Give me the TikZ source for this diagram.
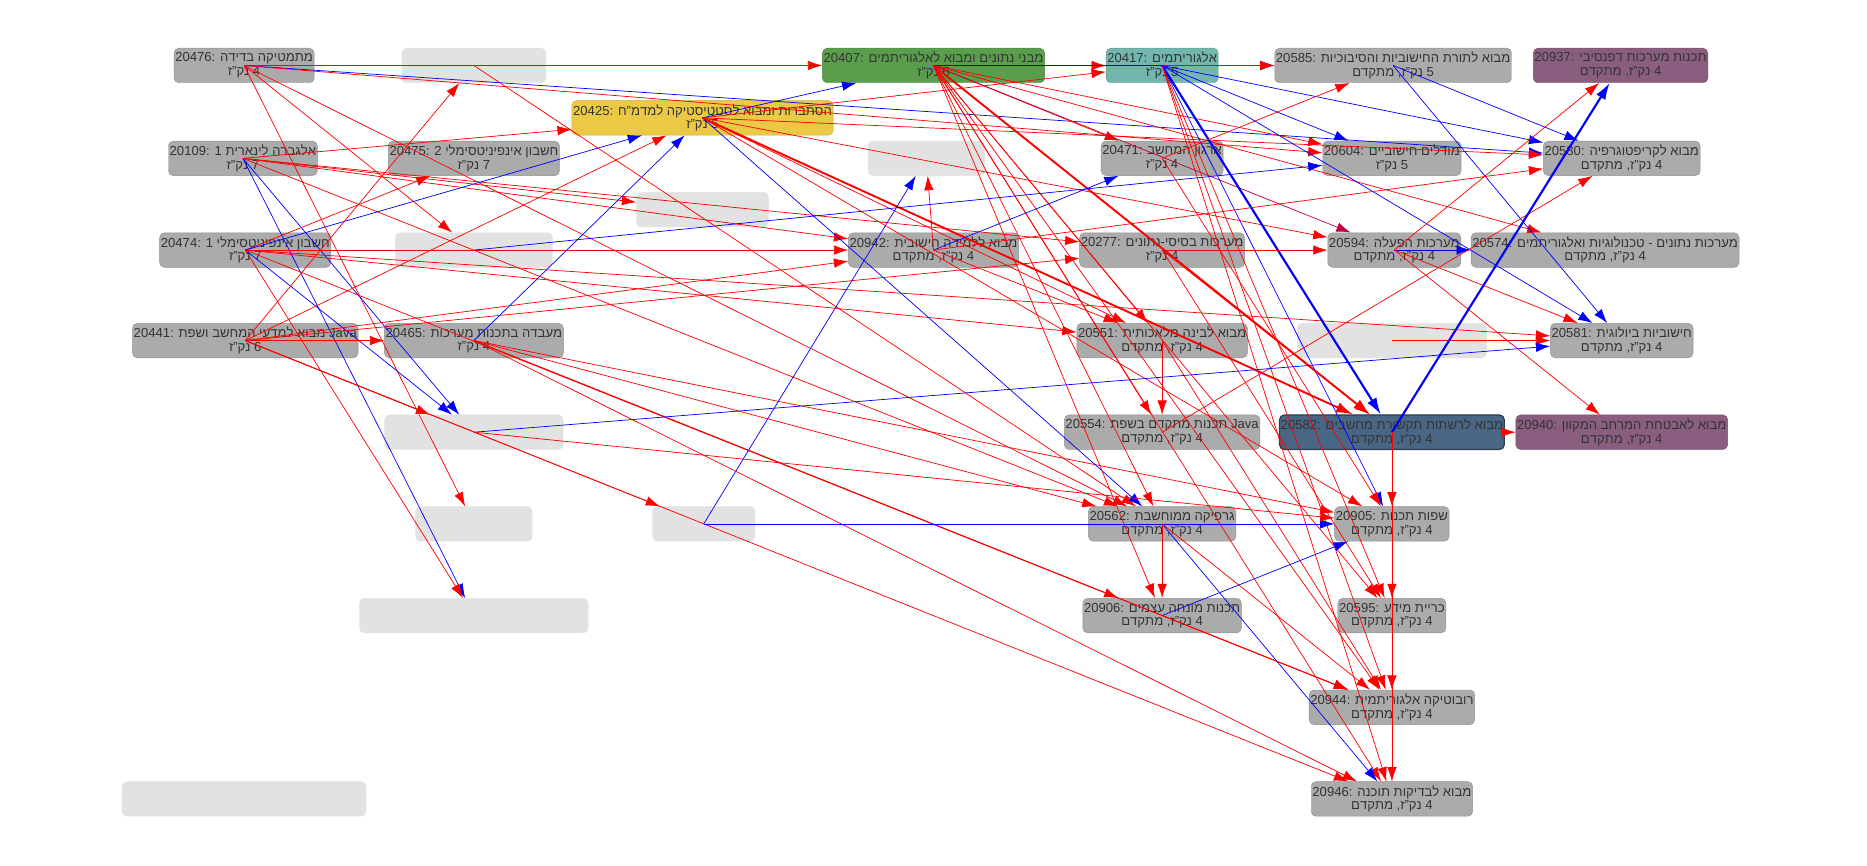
\documentclass[tikz,border=0pt]{standalone}
\usepackage{fontspec}
\setmainfont{Liberation Sans}
\TeXXeTstate=1
\usetikzlibrary{arrows.meta}
\definecolor{gbox}{HTML}{ABABAB}
\definecolor{gph}{HTML}{E2E2E2}
\definecolor{ggreen}{HTML}{5A9E4D}
\definecolor{gteal}{HTML}{72B6AE}
\definecolor{gyel}{HTML}{EBC945}
\definecolor{gpur}{HTML}{8A5E7E}
\definecolor{gnav}{HTML}{4A6685}
\definecolor{txt}{HTML}{333333}
\tikzset{
 crs/.style={rectangle,rounded corners=4pt,minimum height=29pt,inner sep=1pt,align=center,text=txt,font=\fontsize{11}{11.5}\selectfont,draw=#1!85!black,fill=#1,line width=0.4pt},
 ph/.style={rectangle,rounded corners=4pt,minimum height=29pt,fill=gph,draw=gph},
 er/.style={red,line width=0.6pt,-{Latex[length=12pt,width=8pt]}},
 erb/.style={red,line width=1.6pt,-{Latex[length=14pt,width=9pt]}},
 eb/.style={blue,line width=0.6pt,-{Latex[length=12pt,width=8pt]}},
 ebb/.style={blue,line width=1.8pt,-{Latex[length=14pt,width=9pt]}},
}
\newcommand{\crsnode}[8]{\node[crs=#5,minimum width=#4pt] (#1) at (#2,#3) {#6: \beginR #7\endR\\ \beginR #8\endR};}
\begin{document}
\begin{tikzpicture}[x=1pt,y=-1pt]
\useasboundingbox (0,0) rectangle (1568,727);
\def\nz{נק"ז}
\def\nzm{נק"ז, מתקדם}
% placeholders
\node[ph,minimum width=121pt] (g1) at (398,55) {};
\node[ph,minimum width=98pt] (g2) at (778,133) {};
\node[ph,minimum width=111pt] (g3) at (590,176) {};
\node[ph,minimum width=132pt] (g4) at (398,210) {};
\node[ph,minimum width=159pt] (g5) at (1169,286) {};
\node[ph,minimum width=150pt] (g6) at (398,363) {};
\node[ph,minimum width=98pt] (g7) at (398,440) {};
\node[ph,minimum width=86pt] (g8) at (591,440) {};
\node[ph,minimum width=192pt] (g9) at (398,517) {};
\node[ph,minimum width=205pt] (g10) at (205,671) {};
% courses
\crsnode{a20476}{205}{55}{113}{gbox}{20476}{מתמטיקה בדידה}{4 \nz}
\crsnode{a20407}{784}{55}{172}{ggreen}{20407}{מבני נתונים ומבוא לאלגוריתמים}{6 \nz}
\crsnode{a20417}{976}{55}{91}{gteal}{20417}{אלגוריתמים}{5 \nz}
\crsnode{a20585}{1170}{55}{183}{gbox}{20585}{מבוא לתורת החישוביות והסיבוכיות}{5 \nzm}
\crsnode{a20937}{1361}{55}{137}{gpur}{20937}{תכנות מערכות דפנסיבי}{4 \nzm}
\crsnode{a20425}{590}{99}{199}{gyel}{20425}{הסתברות ומבוא לסטטיסטיקה למדמ"ח}{5 \nz}
\crsnode{a20109}{204}{133}{118}{gbox}{20109}{אלגברה לינארית 1}{7 \nz}
\crsnode{a20475}{398}{133}{135}{gbox}{20475}{חשבון אינפיניטסימלי 2}{7 \nz}
\crsnode{a20471}{976}{133}{100}{gbox}{20471}{ארגון המחשב}{4 \nz}
\crsnode{a20604}{1169}{133}{110}{gbox}{20604}{מודלים חישוביים}{5 \nz}
\crsnode{a20580}{1362}{133}{130}{gbox}{20580}{מבוא לקריפטוגרפיה}{4 \nzm}
\crsnode{a20474}{206}{210}{139}{gbox}{20474}{חשבון אינפיניטסימלי 1}{7 \nz}
\crsnode{a20942}{784}{210}{135}{gbox}{20942}{מבוא ללמידה חישובית}{4 \nzm}
\crsnode{a20277}{976}{210}{129}{gbox}{20277}{מערכות בסיסי-נתונים}{4 \nz}
\crsnode{a20594}{1171}{210}{109}{gbox}{20594}{מערכות הפעלה}{4 \nzm}
\crsnode{a20574}{1348}{210}{178}{gbox}{20574}{מערכות נתונים - טכנולוגיות ואלגוריתמים}{4 \nzm}
\crsnode{a20441}{206}{286}{180}{gbox}{20441}{\beginL Java\endL{} מבוא למדעי המחשב ושפת}{6 \nz}
\crsnode{a20465}{398}{286}{141}{gbox}{20465}{מעבדה בתכנות מערכות}{4 \nz}
\crsnode{a20551}{976}{286}{133}{gbox}{20551}{מבוא לבינה מלאכותית}{4 \nzm}
\crsnode{a20581}{1362}{286}{117}{gbox}{20581}{חישוביות ביולוגית}{4 \nzm}
\crsnode{a20554}{976}{363}{160}{gbox}{20554}{\beginL Java\endL{} תכנות מתקדם בשפת}{4 \nzm}
\node[crs=gnav,draw=gnav!60!black,line width=1pt,minimum width=185pt] (a20582) at (1169,363) {20582: \beginR מבוא לרשתות תקשורת מחשבים\endR\\ \beginR 4 \nzm\endR};
\crsnode{a20940}{1362}{363}{166}{gpur}{20940}{מבוא לאבטחת המרחב המקוון}{4 \nzm}
\crsnode{a20562}{976}{440}{119}{gbox}{20562}{גרפיקה ממוחשבת}{4 \nzm}
\crsnode{a20905}{1169}{440}{96}{gbox}{20905}{שפות תכנות}{4 \nzm}
\crsnode{a20906}{976}{517}{126}{gbox}{20906}{תכנות מונחה עצמים}{4 \nzm}
\crsnode{a20595}{1169}{517}{87}{gbox}{20595}{כריית מידע}{4 \nzm}
\crsnode{a20944}{1169}{594}{131}{gbox}{20944}{רובוטיקה אלגוריתמית}{4 \nzm}
\crsnode{a20946}{1169}{671}{129}{gbox}{20946}{מבוא לבדיקות תוכנה}{4 \nzm}
% edges
\draw[er] (a20476.center) -- (a20407);
\draw[eb] (a20476.center) -- (a20580);
\draw[er] (a20476.center) -- (a20604);
\draw[er] (a20476.center) -- (g4);
\draw[er] (a20476.center) -- (a20562);
\draw[er] (a20476.center) -- (g7);
\draw[er] (a20109.center) -- (a20425);
\draw[er] (a20109.center) -- (a20942);
\draw[er] (a20109.center) -- (a20277);
\draw[er] (a20109.center) -- (g3);
\draw[eb] (a20109.center) -- (g9);
\draw[eb] (a20109.center) -- (g6);
\draw[er] (a20109.center) -- (a20562);
\draw[er] (a20474.center) -- (a20475);
\draw[eb] (a20474.center) -- (a20425);
\draw[er] (a20474.center) -- (a20942);
\draw[er] (a20474.center) -- (a20551);
\draw[er] (a20474.center) -- (a20581);
\draw[eb] (a20474.center) -- (g6);
\draw[er] (a20474.center) -- (g9);
\draw[er] (a20474.center) -- (a20944);
\draw[er] (a20441.center) -- (a20465);
\draw[er] (a20441.center) -- (g1);
\draw[er] (a20441.center) -- (a20425);
\draw[er] (a20441.center) -- (a20942);
\draw[er] (a20441.center) -- (a20277);
\draw[er] (a20441.center) -- (g6);
\draw[er] (a20441.center) -- (g8);
\draw[er] (a20441.center) -- (a20946);
\draw[eb] (a20465.center) -- (a20425);
\draw[er] (a20465.center) -- (a20562);
\draw[er] (a20465.center) -- (a20905);
\draw[er] (a20465.center) -- (a20944);
\draw[er] (a20465.center) -- (a20946);
\draw[er] (a20465.center) -- (a20906);
\draw[er] (g1.center) -- (a20562);
\draw[eb] (a20425.center) -- (a20407);
\draw[er] (a20425.center) -- (a20417);
\draw[er] (a20425.center) -- (a20580);
\draw[er] (a20425.center) -- (a20594);
\draw[erb] (a20425.center) -- (a20582);
\draw[eb] (a20425.center) -- (a20562);
\draw[er] (a20425.center) -- (a20551);
\draw[er] (a20425.center) -- (a20905);
\draw[er] (a20407.center) -- (a20417);
\draw[eb] (a20407.center) -- (a20585);
\draw[er] (a20407.center) -- (a20471);
\draw[erb] (a20407.center) -- (a20582);
\draw[er] (a20407.center) -- (a20604);
\draw[er] (a20407.center) -- (a20574);
\draw[er] (a20407.center) -- (a20554);
\draw[er] (a20407.center) -- (a20562);
\draw[er] (a20407.center) -- (a20906);
\draw[er] (a20407.center) -- (a20944);
\draw[er] (a20407.center) -- (a20946);
\draw[er] (a20407.center) -- (a20595);
\draw[er] (a20407.center) -- (a20551);
\draw[er,purple] (a20407.center) -- (a20594);
\draw[er] (a20417.center) -- (a20585);
\draw[eb] (a20417.center) -- (a20604);
\draw[ebb] (a20417.center) -- (a20582);
\draw[eb] (a20417.center) -- (a20581);
\draw[er] (a20417.center) -- (a20944);
\draw[er] (a20417.center) -- (a20946);
\draw[eb] (a20417.center) -- (a20905);
\draw[er] (a20417.center) -- (a20595);
\draw[eb] (a20417.center) -- (a20580);
\draw[eb] (a20585.center) -- (a20580);
\draw[eb] (a20585.center) -- (a20581);
\draw[er] (a20471.center) -- (a20585);
\draw[er] (a20471.center) -- (a20905);
\draw[eb] (a20942.center) -- (a20471);
\draw[er] (a20942.center) -- (g2);
\draw[er] (a20942.center) -- (a20580);
\draw[er] (a20942.center) -- (a20551);
\draw[eb] (g4.center) -- (a20604);
\draw[eb] (g8.center) -- (g2);
\draw[eb] (g8.center) -- (a20905);
\draw[er] (a20277.center) -- (a20594);
\draw[er] (a20277.center) -- (a20582);
\draw[er] (a20277.center) -- (a20595);
\draw[eb] (a20594.center) -- (a20574);
\draw[er] (a20594.center) -- (a20937);
\draw[er] (a20594.center) -- (a20581);
\draw[er] (a20594.center) -- (a20940);
\draw[er] (a20551.center) -- (a20554);
\draw[er] (a20551.center) -- (a20944);
\draw[er] (a20554.center) -- (a20580);
\draw[er] (g5.center) -- (a20581);
\draw[er] (a20582) -- (a20940);
\draw[ebb] (a20582.center) -- (a20937);
\draw[er] (a20582.center) -- (a20905);
\draw[er] (a20582.center) -- (a20595);
\draw[er] (a20562.center) -- (a20906);
\draw[eb] (a20562.center) -- (a20946);
\draw[er] (a20562.center) -- (a20944);
\draw[eb] (a20906.center) -- (a20905);
\draw[er] (a20906.center) -- (a20944);
\draw[er] (a20595.center) -- (a20944);
\draw[er] (a20905.center) -- (a20946);
\draw[eb] (g6.center) -- (a20581);
\draw[er] (g6.center) -- (a20905);
\end{tikzpicture}
\end{document}
